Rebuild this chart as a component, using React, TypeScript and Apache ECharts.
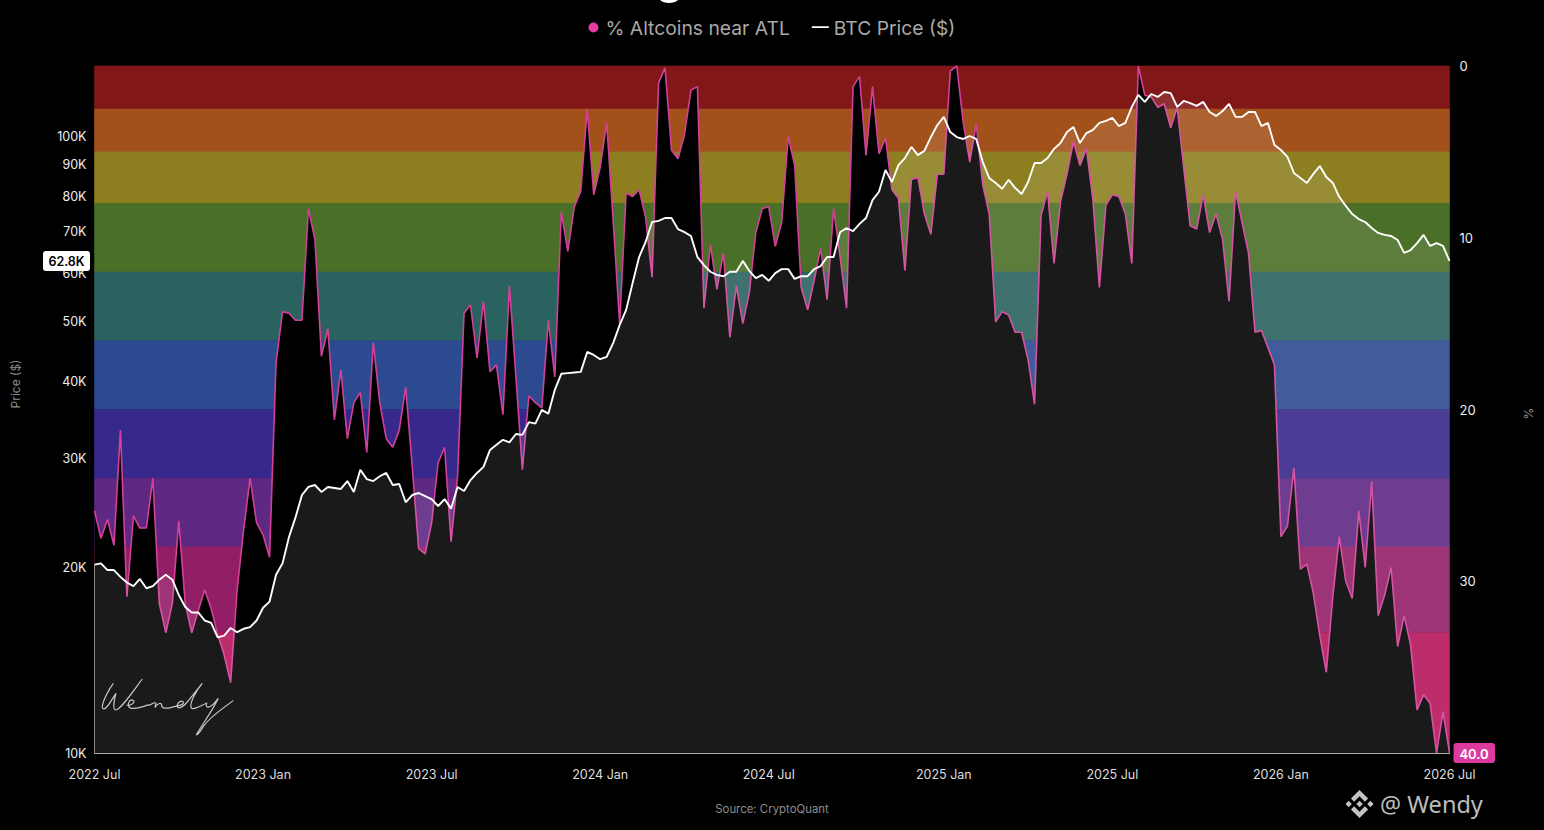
import React, { useEffect, useRef } from "react";
import * as echarts from "echarts";

const altcoinsNearAtl = [
  25.9,27.5,26.4,27.9,21.2,30.9,26.2,26.9,26.9,24.0,
  31.3,33.0,31.3,26.5,31.3,33.0,31.7,30.5,31.6,33.1,
  34.3,35.9,30.5,27.0,24.0,26.6,27.3,28.6,17.3,14.3,
  14.4,14.8,14.8,8.3,10.1,16.9,15.3,20.6,17.7,21.7,
  19.6,19.0,22.5,16.1,19.6,21.7,22.2,21.2,18.7,23.3,
  28.1,28.4,26.6,23.1,22.2,27.7,23.9,14.4,13.9,17.0,
  13.7,17.8,17.4,20.3,12.8,18.1,23.5,19.2,19.6,19.9,
  14.8,18.1,8.5,10.8,8.2,7.3,2.5,7.5,5.9,3.3,
  9.0,15.0,7.4,7.6,7.2,8.8,12.3,1.0,0.1,4.9,
  5.4,4.0,1.4,1.2,14.1,10.4,13.0,10.9,15.8,12.8,
  15.0,13.2,9.7,8.3,8.2,10.5,9.1,4.1,5.8,12.9,
  14.2,12.5,10.6,13.6,8.3,11.1,14.1,1.2,0.6,5.2,
  1.2,5.1,4.2,7.2,7.7,11.9,6.6,6.5,8.6,9.8,
  6.3,6.3,0.3,0.0,3.3,5.6,3.4,6.9,8.6,14.9,
  14.3,14.5,15.5,15.5,17.1,19.7,8.7,7.3,11.5,7.9,
  6.3,4.4,5.8,4.8,7.8,12.9,8.1,7.5,7.6,8.6,
  11.5,0.0,1.7,1.8,2.4,2.2,3.6,2.4,5.9,9.3,
  9.5,7.5,9.7,8.6,10.1,13.7,7.3,9.1,10.9,15.5,
  15.4,16.4,17.4,27.4,26.8,23.4,29.3,29.0,30.7,33.2,
  35.3,30.9,27.4,30.0,31.0,25.9,29.2,24.2,32.0,30.8,
  29.2,33.8,32.0,33.7,37.5,36.6,37.1,40.0,37.6,40.0,
];

const btcPriceK = [
  20.2,20.3,19.8,19.8,19.3,18.9,18.65,19.15,18.5,18.65,
  19.1,19.45,19.1,18.05,17.25,16.9,16.9,16.4,16.25,15.4,
  15.5,15.95,15.7,15.9,16.0,16.4,17.2,17.6,19.45,20.3,
  22.4,24.1,26.2,27.0,27.2,26.5,27.0,26.9,26.8,27.6,
  26.5,28.8,27.8,27.6,28.1,28.45,27.2,27.3,25.5,26.2,
  26.4,26.1,25.8,25.15,25.8,24.9,27.0,26.6,27.7,28.45,
  29.1,31.0,31.6,32.2,31.9,32.9,32.8,34.4,34.2,36.0,
  35.5,38.8,41.2,41.3,41.4,41.5,44.7,44.2,43.5,43.9,
  46.2,49.4,52.3,57.8,63.7,67.4,72.6,72.9,73.7,73.7,
  70.7,69.9,68.9,63.7,61.8,60.3,59.6,59.3,60.3,60.3,
  62.8,60.5,58.9,59.6,58.3,60.0,60.9,60.9,58.7,59.3,
  59.3,60.9,61.6,63.7,63.7,69.9,71.0,70.2,72.1,73.7,
  78.8,81.3,88.2,84.3,89.8,92.2,96.1,93.2,94.7,99.7,
  104.3,107.5,101.6,99.7,99.0,100.1,99.0,90.9,85.6,84.0,
  82.2,85.0,82.5,80.6,84.3,90.5,90.5,92.2,95.4,97.5,
  101.6,103.5,97.5,101.2,102.4,105.1,105.9,107.1,103.9,105.1,
  111.6,116.7,113.7,117.1,115.8,118.0,117.5,111.6,114.1,113.2,
  112.0,113.7,109.5,107.9,109.9,112.8,107.5,107.5,109.5,109.5,
  103.9,105.1,96.8,95.0,92.6,87.2,85.6,84.0,86.9,89.5,
  85.9,84.0,79.7,77.1,74.8,73.4,72.6,71.0,69.7,69.2,
  68.9,67.9,64.7,65.4,67.1,69.2,66.4,67.1,66.4,62.8,
];

const xTickIndices = [0, 26, 52, 78, 104, 131, 157, 183, 209];
const xTickLabels = ["2022 Jul","2023 Jan","2023 Jul","2024 Jan","2024 Jul","2025 Jan","2025 Jul","2026 Jan","2026 Jul"];
const priceTicks = [10000,20000,30000,40000,50000,60000,70000,80000,90000,100000];
const percentTicks = [0, 10, 20, 30];
const bandEdges = [0, 2.5, 5, 8, 12, 16, 20, 24, 28, 33, 40];
const bandColors = ["#821717","#a3511a","#8d7f20","#4a6f26","#2a625f","#2b4a8f","#37288b","#5e2883","#921e66","#b6165c"];

const FONT = "Inter, 'Noto Sans', sans-serif";
const LEGEND_DOT = "path://M0 0h.01v.01H0zM17 10h.01v.01H17zM5 5a5 5 0 1 0 10 0a5 5 0 1 0-10 0z";
const LEGEND_LINE = "path://M0 0h.01v.01H0zM17 10h.01v.01H17zM0 3.8h17v1.7H0z";
const SIGNATURE =
  "M70 40C55 60 38 95 37 110C37 122 48 118 60 98L78 70C72 90 68 118 76 120C90 122 125 70 157 27" +
  "M110 105C125 110 140 92 128 90C115 90 108 112 125 115C150 118 165 105 180 105C190 100 195 95 198 100L195 112C205 98 215 98 215 105C215 115 225 117 245 112" +
  "C262 108 285 105 280 96C270 88 255 108 265 113C280 118 305 80 337 40C320 60 295 105 305 115C315 120 335 105 350 100" +
  "C345 115 360 120 385 85C375 110 340 160 322 190C315 200 325 195 340 170C360 140 400 115 430 92";
const BINANCE =
  "M16.624 13.9202l2.7175 2.7154-7.353 7.353-7.353-7.352 2.7175-2.7164 4.6355 4.6595 4.6356-4.6595zm4.6366-4.6366L24 12l-2.7154 2.7164L18.5682 12l2.6924-2.7164zm-9.272.001l2.7163 2.6914-2.7164 2.7174v-.001L9.2721 12l2.7164-2.7154zm-9.2722-.001L5.4088 12l-2.6914 2.6924L0 12l2.7164-2.7164zM11.9885.0115l7.353 7.329-2.7174 2.7154-4.6356-4.6356-4.6355 4.6595-2.7174-2.7154 7.353-7.353z";

echarts.graphic.registerShape("wendySignature", echarts.graphic.extendPath(SIGNATURE, {}));
echarts.graphic.registerShape("binanceMark", echarts.graphic.extendPath(BINANCE, {}));

export default function App() {
  const ref = useRef<HTMLDivElement>(null);
  useEffect(() => {
    const chart = echarts.init(ref.current!, undefined, { renderer: "svg" });
    const categories = altcoinsNearAtl.map((_, i) => {
      const at = xTickIndices.indexOf(i);
      return at >= 0 ? xTickLabels[at] : `w${i}`;
    });
    const bands = bandColors.map((color, i) => [
      { yAxis: bandEdges[i], itemStyle: { color, opacity: 1, borderColor: color, borderWidth: 0.6 } },
      { yAxis: bandEdges[i + 1] },
    ]);
    chart.setOption({
      animation: false,
      backgroundColor: "#000",
      legend: {
        top: 13,
        left: 578.5,
        itemWidth: 17,
        itemHeight: 10,
        itemGap: 22,
        selectedMode: false,
        textStyle: { color: "#a8a8a8", fontSize: 19.3, fontFamily: FONT },
        data: [
          { name: "% Altcoins near ATL", icon: LEGEND_DOT, itemStyle: { color: "#e43aa3" } },
          { name: "BTC Price ($)", icon: LEGEND_LINE, itemStyle: { color: "#fff" } },
        ],
      },
      grid: { left: 94.5, right: 94.5, top: 66, bottom: 77 },
      xAxis: {
        type: "category",
        boundaryGap: false,
        data: categories,
        position: "bottom",
        z: 10,
        axisLine: { show: true, onZero: false, lineStyle: { color: "#aaa", width: 1 } },
        axisTick: { show: false },
        splitLine: { show: false },
        axisLabel: {
          color: "#ddd",
          fontFamily: FONT,
          fontSize: 12.5,
          margin: 15,
          interval: (i: number) => xTickIndices.includes(i),
          showMinLabel: true,
          showMaxLabel: true,
          hideOverlap: false,
        },
      },
      yAxis: [
        {
          type: "log",
          min: 10000,
          max: 130000,
          logBase: 10,
          position: "left",
          splitLine: { show: false },
          axisLine: { show: false },
          axisTick: { show: false },
          minorTick: { show: false },
          axisLabel: {
            customValues: priceTicks,
            color: "#eee",
            fontFamily: FONT,
            fontSize: 12.5,
            margin: 8,
            formatter: (v: number) => `${Math.round(v / 1000)}K`,
          },
        },
        {
          type: "value",
          min: 0,
          max: 40,
          interval: 10,
          inverse: true,
          position: "right",
          splitLine: { show: false },
          axisLine: { show: false },
          axisTick: { show: false },
          axisLabel: { customValues: percentTicks, color: "#eee", fontFamily: FONT, fontSize: 13, margin: 10 },
        },
      ],
      series: [
        {
          name: "% Altcoins near ATL",
          type: "line",
          yAxisIndex: 1,
          data: altcoinsNearAtl,
          showSymbol: false,
          z: 3,
          lineStyle: { color: "#d2409a", width: 1.6 },
          itemStyle: { color: "#d2409a" },
          areaStyle: { color: "#000", opacity: 1, origin: "end" },
          markArea: { silent: true, z: 1, data: bands },
        },
        {
          name: "BTC Price ($)",
          type: "line",
          yAxisIndex: 0,
          data: btcPriceK.map((v) => v * 1000),
          showSymbol: false,
          z: 4,
          lineStyle: { color: "#fff", width: 1.9 },
          itemStyle: { color: "#fff" },
          areaStyle: { color: "#fff", opacity: 0.1, origin: "start" },
        },
      ],
      graphic: [
        { type: "ellipse", shape: { cx: 669, cy: -4, rx: 11, ry: 7 }, style: { fill: "#fff" }, z: 10 },
        { type: "line", shape: { x1: 94.5, y1: 565, x2: 94.5, y2: 753 }, style: { stroke: "#888", lineWidth: 1 }, z: 10 },
        { type: "text", x: 15, y: 384, rotation: Math.PI / 2, style: { text: "Price ($)", fill: "#8c8c8c", font: `12px ${FONT}`, align: "center", verticalAlign: "middle" }, z: 10 },
        { type: "text", x: 1528, y: 413.5, rotation: Math.PI / 2, style: { text: "%", fill: "#8c8c8c", font: `12px ${FONT}`, align: "center", verticalAlign: "middle" }, z: 10 },
        { type: "rect", shape: { x: 43, y: 251, width: 47, height: 20, r: 3 }, style: { fill: "#fff" }, z: 20 },
        { type: "text", x: 66.5, y: 261, style: { text: "62.8K", fill: "#000", font: `600 12.5px ${FONT}`, align: "center", verticalAlign: "middle" }, z: 21 },
        { type: "rect", shape: { x: 1453.5, y: 743, width: 41.5, height: 20, r: 3 }, style: { fill: "#dc3a9e" }, z: 20 },
        { type: "text", x: 1474, y: 753.5, style: { text: "40.0", fill: "#fff", font: `600 13px ${FONT}`, align: "center", verticalAlign: "middle" }, z: 21 },
        { type: "text", x: 772, y: 809, style: { text: "Source: CryptoQuant", fill: "#8c8c8c", font: `11.4px ${FONT}`, align: "center", verticalAlign: "middle" }, z: 10 },
        { type: "wendySignature", x: 90, y: 670, scaleX: 1 / 3, scaleY: 1 / 3, style: { fill: "none", stroke: "#c8c8c8", lineWidth: 3.6 }, z: 10 },
        { type: "binanceMark", x: 1345.5, y: 790, scaleX: 1.17, scaleY: 1.17, style: { fill: "#c4c4c4" }, z: 10 },
        { type: "text", x: 1380, y: 803.5, style: { text: "@ Wendy", fill: "#bdbdbd", font: `23.5px 'Noto Sans', ${FONT}`, align: "left", verticalAlign: "middle" }, z: 10 },
      ],
    });
    return () => chart.dispose();
  }, []);
  return (
    <div
      ref={ref}
      style={{ position: "fixed", left: 0, top: 0, width: 1544, height: 830, background: "#000" }}
    />
  );
}
